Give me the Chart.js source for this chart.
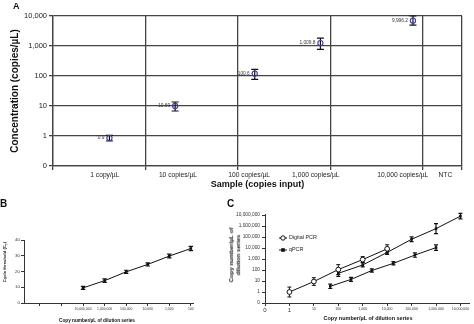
<!DOCTYPE html>
<html>
<head>
<meta charset="utf-8">
<script src="https://cdn.jsdelivr.net/npm/chart.js@4.4.1/dist/chart.umd.min.js"></script>
<style>
  body { margin: 0; background: #fff; width: 474px; height: 324px; overflow: hidden; position: relative;
         font-family: "Liberation Sans", Arial, sans-serif; }
  canvas { position: absolute; }
  .lbl { position: absolute; font-weight: bold; color: #111; white-space: nowrap; line-height: 1.15; }
  .rot { transform: translate(-50%, -50%) rotate(-90deg); text-align: center; }
  .ctr { transform: translate(-50%, -50%); text-align: center; }
</style>
</head>
<body>
<canvas id="chartA" width="474" height="195" style="left:0;top:0"></canvas>
<canvas id="chartB" width="232" height="124" style="left:0;top:200px"></canvas>
<canvas id="chartC" width="242" height="124" style="left:232px;top:200px"></canvas>

<div class="lbl" style="left:13px;top:1px;font-size:9px">A</div>
<div class="lbl" style="left:0px;top:198px;font-size:10px">B</div>
<div class="lbl" style="left:227px;top:198px;font-size:10px">C</div>

<div class="lbl rot" style="left:6px;top:262px;font-size:4.2px">Cycle threshold (C<sub style="font-size:3px">T</sub>)</div>
<div class="lbl ctr" style="left:97px;top:321px;font-size:4.7px">Copy number/µL of dilution series</div>
<div class="lbl ctr" style="left:368px;top:318px;font-size:5.5px">Copy number/µL of dilution series</div>
<div class="lbl rot" style="left:235px;top:255px;font-size:6px">Copy number/µL of<br>dilution series</div>

<script>
Chart.defaults.font.family = '"Liberation Sans", Arial, sans-serif';
Chart.defaults.color = '#222';

// PANEL A: digital PCR concentration per sample
var sampleLabels = ['1 copy/µL', '10 copies/µL', '100 copies/µL', '1,000 copies/µL', '10,000 copies/µL', 'NTC'];
var sampleLabelPos = [0.56, 1.35, 2.12, 2.84, 3.78, 4.24];
var samplePointPos = [0.61, 1.32, 2.18, 2.89, 3.89];
var colEdges = [0, 1, 2, 3, 4, 4.42];
var concMean = [0.86, 10, 120, 1250, 7000];
var concLow = [0.68, 6.8, 77, 770, 5000];
var concHigh = [1.05, 13.6, 167, 1820, 10000];
var concText = ['0.9', '10.69', '100.6', '1,009.8', '9,996.2'];
var concTickLabels = ['0', '1', '10', '100', '1,000', '10,000'];

// PANEL B: qPCR Ct vs dilution
var ctCopies = [10000000, 1000000, 100000, 10000, 1000, 100];
var ctMean = [9.6, 14.2, 19.8, 24.5, 29.8, 34.6];
var ctErr = [1.0, 1.1, 1.0, 1.0, 1.2, 1.3];
var ctXTicks = ['', '', '10,000,000', '1,000,000', '100,000', '10,000', '1,000', '100']; // log 9 .. 2

// PANEL C: measured copies vs dilution (error in decades)
var dpcrX = [1, 10, 100, 1000, 10000];
var dpcrY = [1, 9, 110, 900, 8500];
var dpcrErr = [0.45, 0.35, 0.45, 0.27, 0.37];
var qpcrHiX = [100, 1000, 10000, 100000, 1000000, 10000000];
var qpcrHiY = [50, 290, 4000, 63000, 590000, 8000000];
var qpcrHiErr = [0.27, 0.18, 0.18, 0.22, 0.45, 0.25];
var qpcrLoX = [47, 330, 2350, 18000, 137000, 1000000];
var qpcrLoY = [3.3, 14, 90, 410, 2300, 11000];
var qpcrLoErr = [0.2, 0.18, 0.15, 0.15, 0.2, 0.25];
var copyTicks = ['0', '1', '10', '100', '1,000', '10,000', '100,000', '1,000,000', '10,000,000']; // log -1 .. 7

var lg = Math.log10;

// error bars, drawn from the chart's own scales
var errorBars = {
  id: 'errorBars',
  beforeDatasetsDraw: function(chart) {
    var ctx = chart.ctx, xs = chart.scales.x, ys = chart.scales.y;
    chart.data.datasets.forEach(function(ds) {
      if (!ds.errLo) return;
      ctx.save();
      ctx.strokeStyle = '#111';
      ctx.lineWidth = ds.errWidth || 1;
      ds.data.forEach(function(p, j) {
        var px = xs.getPixelForValue(p.x);
        var t = ys.getPixelForValue(ds.errHi[j]);
        var b = ys.getPixelForValue(ds.errLo[j]);
        var c = ds.capW || 2;
        ctx.beginPath();
        ctx.moveTo(px, t); ctx.lineTo(px, b);
        ctx.moveTo(px - c, t); ctx.lineTo(px + c, t);
        ctx.moveTo(px - c, b); ctx.lineTo(px + c, b);
        ctx.stroke();
      });
      ctx.restore();
    });
  },
  afterDatasetsDraw: function(chart) {
    var ctx = chart.ctx, xs = chart.scales.x, ys = chart.scales.y;
    chart.data.datasets.forEach(function(ds) {
      if (!ds.pointText) return;
      ctx.save();
      ctx.font = '4.8px "Liberation Sans", Arial, sans-serif';
      ctx.fillStyle = '#333';
      ctx.textAlign = 'right';
      ctx.textBaseline = 'middle';
      ds.data.forEach(function(p, j) {
        ctx.fillText(ds.pointText[j], xs.getPixelForValue(p.x) - 5, ys.getPixelForValue(p.y));
      });
      ctx.restore();
    });
  }
};

var baseOpts = {
  responsive: false,
  animation: false,
  devicePixelRatio: 1,
  plugins: { legend: { display: false }, tooltip: { enabled: false } }
};

// ---- A ----
new Chart(document.getElementById('chartA'), {
  type: 'scatter',
  data: {
    datasets: [{
      data: samplePointPos.map(function(x, i) { return { x: x, y: lg(concMean[i]) }; }),
      errLo: concLow.map(lg),
      errHi: concHigh.map(lg),
      pointText: concText,
      capW: 3.5,
      errWidth: 1.2,
      pointStyle: 'circle',
      pointRadius: 2.6,
      borderColor: '#3b3b9e',
      backgroundColor: 'rgba(0,0,0,0)',
      borderWidth: 1.1
    }]
  },
  options: Object.assign({}, baseOpts, {
    layout: { padding: { top: 16, right: 12, left: 0, bottom: 0 } },
    scales: {
      x: {
        type: 'linear', min: 0, max: 4.42,
        afterBuildTicks: function(s) {
          var vals = colEdges.concat(sampleLabelPos).sort(function(a, b) { return a - b; });
          s.ticks = vals.map(function(v) { return { value: v }; });
        },
        afterFit: function(s) { s.height = 29; },
        ticks: {
          autoSkip: false, maxRotation: 0, padding: 1, font: { size: 6.7 }, color: '#222',
          callback: function(v) { var i = sampleLabelPos.indexOf(v); return i >= 0 ? sampleLabels[i] : ''; }
        },
        grid: {
          color: function(c) { return c.tick && sampleLabelPos.indexOf(c.tick.value) >= 0 ? 'rgba(0,0,0,0)' : '#444'; },
          lineWidth: 1.3, tickLength: 4
        },
        border: { color: '#444', width: 1.3 },
        title: { display: true, text: 'Sample (copies input)', font: { size: 9, weight: 'bold' }, color: '#111', padding: { top: 0, bottom: 5 } }
      },
      y: {
        type: 'linear', min: -1, max: 4,
        afterFit: function(s) { s.width = 53; },
        ticks: {
          stepSize: 1, font: { size: 7.5 }, color: '#222', padding: 2,
          callback: function(v) { return concTickLabels[Math.round(v) + 1]; }
        },
        grid: { color: '#444', lineWidth: 1.3, tickLength: 4 },
        border: { color: '#444', width: 1.3 },
        title: { display: true, text: 'Concentration (copies/µL)', font: { size: 10, weight: 'bold' }, color: '#111', padding: { top: 9, bottom: 0 } }
      }
    }
  }),
  plugins: [errorBars]
});

// ---- B ----
new Chart(document.getElementById('chartB'), {
  type: 'line',
  data: {
    datasets: [{
      data: ctCopies.map(function(c, i) { return { x: lg(c), y: ctMean[i] }; }),
      errLo: ctMean.map(function(m, i) { return m - ctErr[i]; }),
      errHi: ctMean.map(function(m, i) { return m + ctErr[i]; }),
      capW: 2.2,
      errWidth: 1.2,
      borderColor: '#111', borderWidth: 1,
      pointStyle: 'rect', pointRadius: 1.8, backgroundColor: '#111', pointBorderWidth: 0
    }]
  },
  options: Object.assign({}, baseOpts, {
    layout: { padding: { top: 40, right: 39, left: 0, bottom: 0 } },
    scales: {
      x: {
        type: 'linear', reverse: true, min: 1.9, max: 9.74,
        afterBuildTicks: function(s) { s.ticks = [9, 8, 7, 6, 5, 4, 3, 2].map(function(v) { return { value: v }; }); },
        afterFit: function(s) { s.height = 21; },
        ticks: { autoSkip: false, maxRotation: 0, padding: 1, font: { size: 3.4 }, color: '#333',
                 callback: function(v) { return ctXTicks[9 - Math.round(v)]; } },
        grid: { drawOnChartArea: false, tickLength: 3, color: '#333' },
        border: { color: '#333' }
      },
      y: {
        type: 'linear', min: 0, max: 40,
        afterFit: function(s) { s.width = 24; },
        ticks: { stepSize: 5, font: { size: 4.4 }, color: '#333', padding: 1 },
        grid: { drawOnChartArea: false, tickLength: 3, color: '#333' },
        border: { color: '#333' }
      }
    }
  }),
  plugins: [errorBars]
});

// ---- C ----
var legendC = {
  id: 'legendC',
  afterDraw: function(chart) {
    var ctx = chart.ctx, a = chart.chartArea;
    var shown = chart.data.datasets.slice(0, 2);
    ctx.save();
    ctx.font = '5.4px "Liberation Sans", Arial, sans-serif';
    ctx.textBaseline = 'middle';
    shown.forEach(function(ds, i) {
      var mx = a.left + 18, my = a.top + 24 + i * 12;
      ctx.strokeStyle = '#111'; ctx.lineWidth = 1;
      ctx.beginPath(); ctx.moveTo(mx - 4, my); ctx.lineTo(mx + 4, my); ctx.stroke();
      ctx.beginPath();
      if (ds.pointStyle === 'circle') {
        ctx.fillStyle = '#fff';
        ctx.arc(mx, my, 2.2, 0, Math.PI * 2); ctx.fill(); ctx.stroke();
      } else {
        ctx.fillStyle = '#111';
        ctx.fillRect(mx - 1.8, my - 1.8, 3.6, 3.6);
      }
      ctx.fillStyle = '#222';
      ctx.fillText(ds.label, mx + 6, my);
    });
    ctx.restore();
  }
};

function seriesC(xs, ys) {
  return xs.map(function(x, i) { return { x: lg(x), y: lg(ys[i]) }; });
}

new Chart(document.getElementById('chartC'), {
  type: 'line',
  data: {
    datasets: [{
      label: 'Digital PCR',
      data: seriesC(dpcrX, dpcrY),
      errLo: dpcrY.map(function(v, i) { return lg(v) - dpcrErr[i]; }),
      errHi: dpcrY.map(function(v, i) { return lg(v) + dpcrErr[i]; }),
      capW: 2, errWidth: 1,
      borderColor: '#111', borderWidth: 1,
      pointStyle: 'circle', pointRadius: 2.4, backgroundColor: '#fff', pointBorderWidth: 1
    }, {
      label: 'qPCR',
      data: seriesC(qpcrLoX, qpcrLoY),
      errLo: qpcrLoY.map(function(v, i) { return lg(v) - qpcrLoErr[i]; }),
      errHi: qpcrLoY.map(function(v, i) { return lg(v) + qpcrLoErr[i]; }),
      capW: 2, errWidth: 1.2,
      borderColor: '#111', borderWidth: 1,
      pointStyle: 'rect', pointRadius: 1.8, backgroundColor: '#111', pointBorderWidth: 0
    }, {
      label: 'qPCR',
      data: seriesC(qpcrHiX, qpcrHiY),
      errLo: qpcrHiY.map(function(v, i) { return lg(v) - qpcrHiErr[i]; }),
      errHi: qpcrHiY.map(function(v, i) { return lg(v) + qpcrHiErr[i]; }),
      capW: 2, errWidth: 1.2,
      borderColor: '#111', borderWidth: 1,
      pointStyle: 'rect', pointRadius: 1.8, backgroundColor: '#111', pointBorderWidth: 0
    }]
  },
  options: Object.assign({}, baseOpts, {
    layout: { padding: { top: 14, right: 4, left: 0, bottom: 0 } },
    scales: {
      x: {
        type: 'linear', min: -1, max: 7.35,
        afterBuildTicks: function(s) { s.ticks = [-1, 0, 1, 2, 3, 4, 5, 6, 7].map(function(v) { return { value: v }; }); },
        afterFit: function(s) { s.height = 21; },
        ticks: {
          autoSkip: false, maxRotation: 0, padding: 1, color: '#333',
          font: function(c) { return { size: c.tick && c.tick.value <= 0 ? 6 : 3.5 }; },
          callback: function(v) { return copyTicks[Math.round(v) + 1]; }
        },
        grid: { drawOnChartArea: false, tickLength: 3, color: '#333' },
        border: { color: '#333' }
      },
      y: {
        type: 'linear', min: -1, max: 7.1,
        afterBuildTicks: function(s) { s.ticks = [-1, 0, 1, 2, 3, 4, 5, 6, 7].map(function(v) { return { value: v }; }); },
        afterFit: function(s) { s.width = 33; },
        ticks: { font: { size: 4.8 }, color: '#333', padding: 2,
                 callback: function(v) { return copyTicks[Math.round(v) + 1]; } },
        grid: { drawOnChartArea: false, tickLength: 3, color: '#333' },
        border: { color: '#333' }
      }
    }
  }),
  plugins: [errorBars, legendC]
});
</script>
</body>
</html>
